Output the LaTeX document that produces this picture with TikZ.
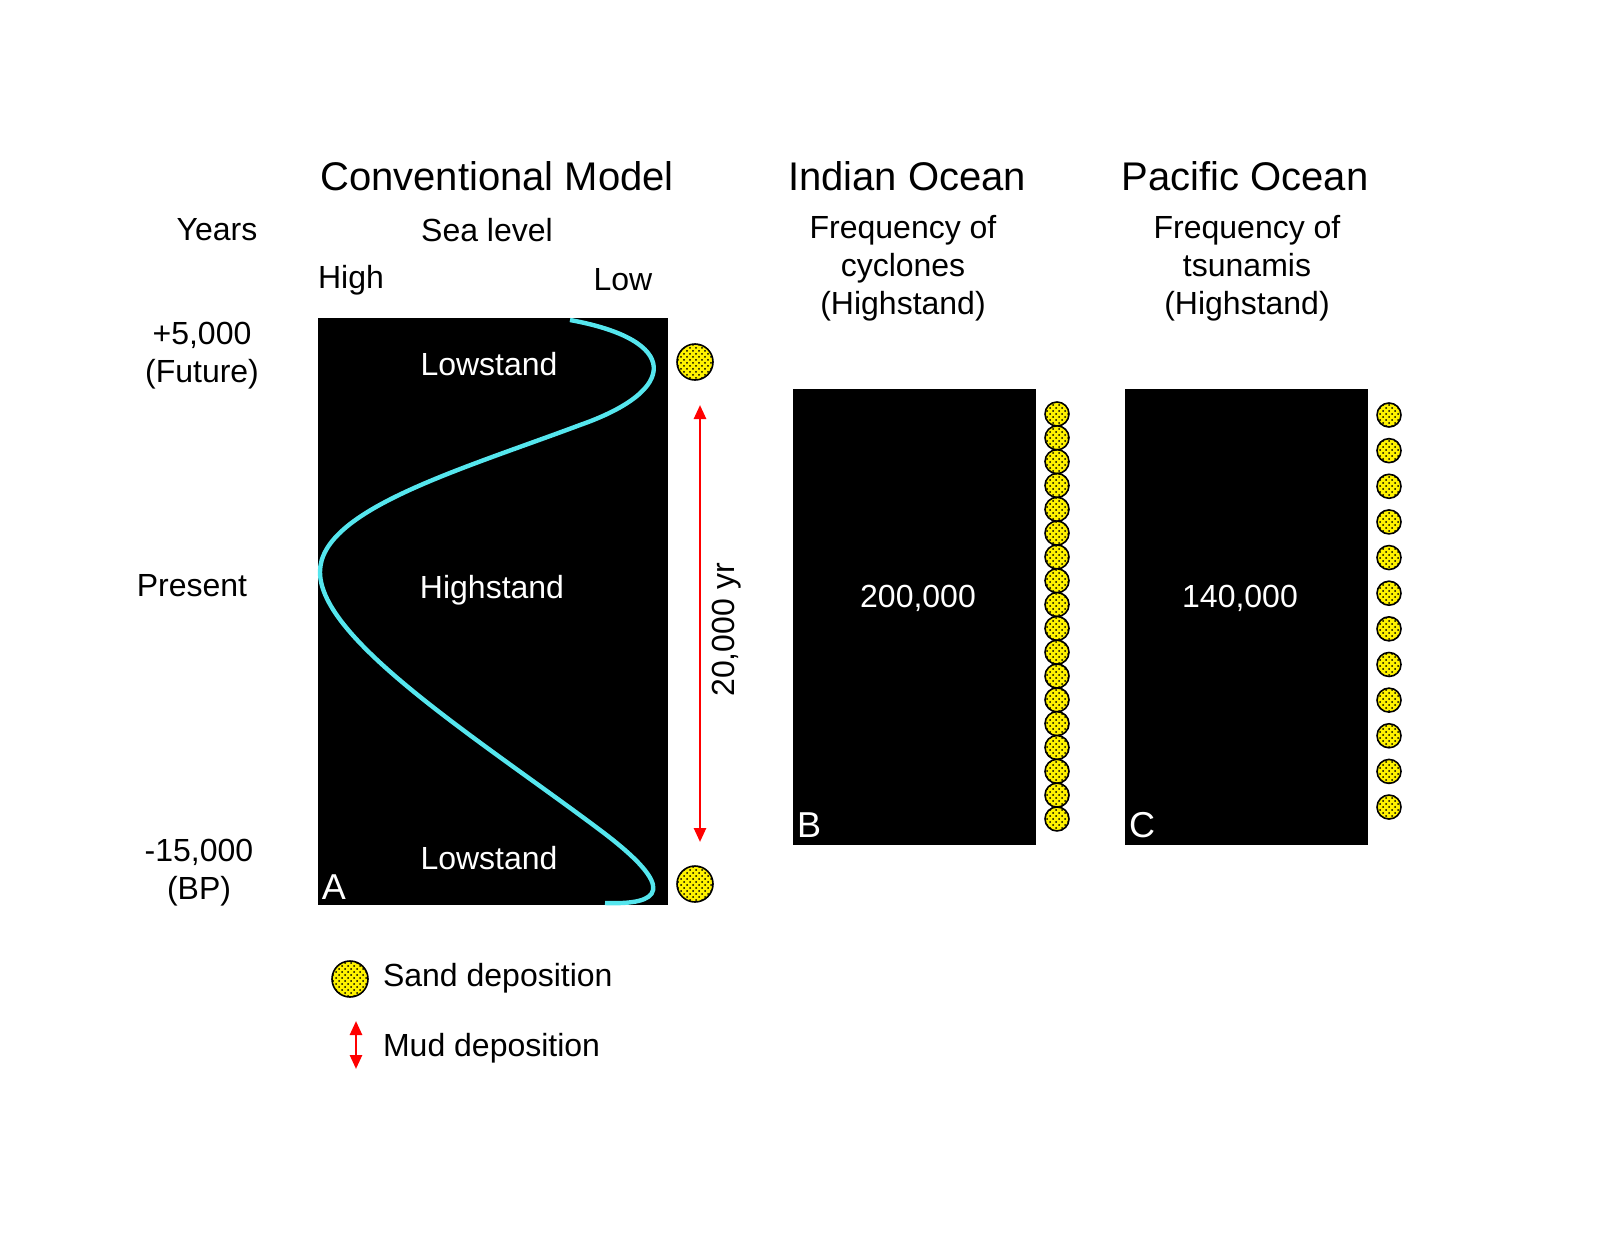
\documentclass[tikz,border=0pt]{standalone}
\usepackage{fontspec}
\setmainfont{Liberation Sans}
\usetikzlibrary{patterns,arrows.meta}
\definecolor{curvecol}{HTML}{55E6EE}
\begin{document}
\begin{tikzpicture}[x=0.5pt,y=-0.5pt,
 big/.style={font=\fontsize{20}{22}\selectfont},
 txt/.style={font=\fontsize{16}{19}\selectfont,align=center},
 wtxt/.style={txt,text=white},
 mud/.style={red,line width=1.3pt,{Triangle[width=6pt,length=7pt]}-{Triangle[width=6pt,length=7pt]}}]
\useasboundingbox (0,0) rectangle (1600,1236);
\newcommand{\sand}[3]{\fill[yellow] (#1,#2) circle (#3);\fill[pattern=crosshatch dots] (#1,#2) circle (#3);\draw[line width=0.8pt] (#1,#2) circle (#3);}
% headers
\node[big] (t1) at (497,176) {Conventional Model};
\node[big] (t2) at (907,176) {Indian Ocean};
\node[big] (t3) at (1245,176) {Pacific Ocean};
\node[txt] (yr) at (217,230) {Years};
\node[txt] (sl) at (487,230) {Sea level};
\node[txt] (hi) at (351,280) {High};
\node[txt] (lo) at (623,280) {Low};
\node[txt] (f1) at (903,268) {Frequency of\\cyclones\\(Highstand)};
\node[txt] (f2) at (1247,268) {Frequency of\\tsunamis\\(Highstand)};
\node[txt] (y1) at (202,356) {+5,000\\(Future)};
\node[txt] (y2) at (192,586) {Present};
\node[txt] (y3) at (199,873) {-15,000\\(BP)};
% box A
\fill (318,318) rectangle (668,905);
\draw[curvecol,line width=2.2pt] (570,320) .. controls (680,340) and (680,390) .. (580,425)
 .. controls (460,470) and (320,510) .. (320,572)
 .. controls (320,640) and (480,740) .. (600,830)
 .. controls (680,890) and (660,905) .. (605,903);
\node[wtxt] (l1) at (489,364) {Lowstand};
\node[wtxt] (h) at (492,590) {Highstand};
\node[wtxt] (l2) at (489,858) {Lowstand};
\node[wtxt,font=\fontsize{18}{20}\selectfont] (a) at (334,887) {A};
\sand{695}{362}{18}
\sand{695}{884}{18}
\coordinate (ma) at (700,405); \coordinate (mb) at (700,842);
\draw[mud] (ma) -- (mb);
\node[txt,rotate=90] (yrs) at (727,630) {20,000 yr};
% box B
\fill (793,389) rectangle (1036,845);
\node[wtxt] (n1) at (918,598) {200,000};
\node[wtxt,font=\fontsize{18}{20}\selectfont] (b) at (809,825) {B};
\foreach \i in {0,...,17} {\sand{1057}{414+23.82*\i}{12}}
% box C
\fill (1125,389) rectangle (1368,845);
\node[wtxt] (n2) at (1240,598) {140,000};
\node[wtxt,font=\fontsize{18}{20}\selectfont] (c) at (1142,825) {C};
\foreach \i in {0,...,11} {\sand{1389}{415+35.64*\i}{12}}
% legend
\sand{350}{979}{18}
\node[txt,anchor=west] (sd) at (376,978) {Sand deposition};
\coordinate (la) at (356,1021); \coordinate (lb) at (356,1069);
\draw[mud] (la) -- (lb);
\node[txt,anchor=west] (md) at (376,1048) {Mud deposition};
\end{tikzpicture}
\end{document}
